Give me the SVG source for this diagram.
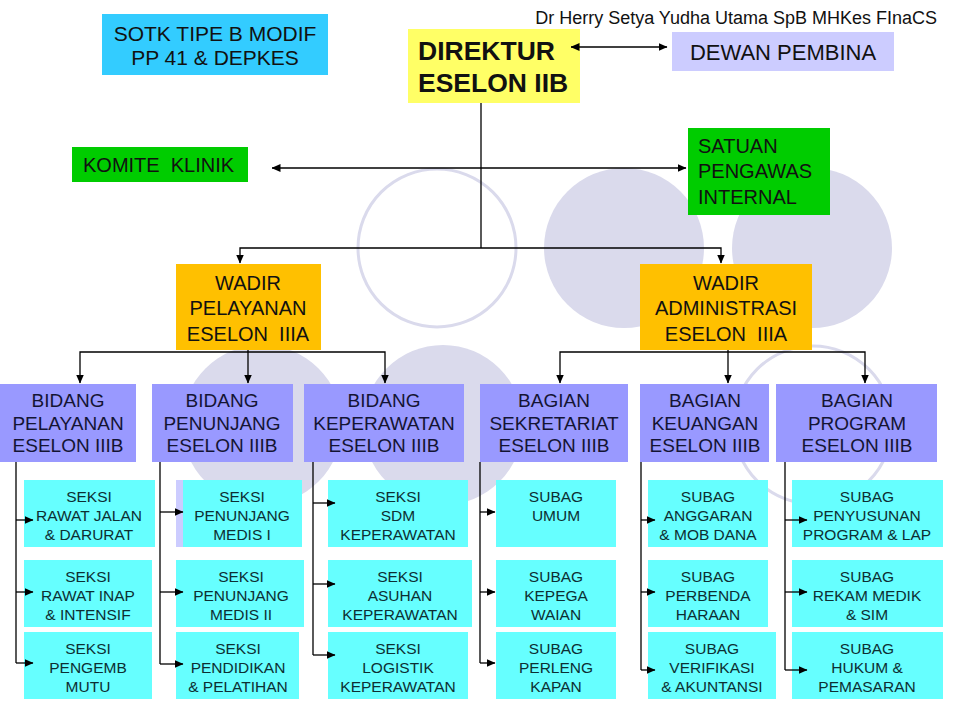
<svg xmlns="http://www.w3.org/2000/svg" width="960" height="720" viewBox="0 0 960 720">
<defs>
<marker id="arr" markerUnits="userSpaceOnUse" markerWidth="9" markerHeight="8" refX="8.5" refY="4" orient="auto-start-reverse" viewBox="0 0 9 8">
<path d="M0,0 L9,4 L0,8 z" fill="#000"/>
</marker>
<style>
text{font-family:"Liberation Sans",Arial,sans-serif;fill:#111;}
.c{text-anchor:middle;}
.bg{fill:#DADAEC;}
.ring{fill:none;stroke:#DADAEC;stroke-width:3;}
.ln{fill:none;stroke:#000;stroke-width:1.3;}
.cy{fill:#66FFFF;}
.sm{font-size:15.5px;fill:#0d2f33;}
.bid{fill:#9999FF;}
.md{font-size:19px;fill:#141433;}
.wd{font-size:20px;}
</style>
</defs>
<rect width="960" height="720" fill="#fff"/>
<g id="background">
<circle class="ring" cx="437" cy="248" r="79"/>
<circle class="bg" cx="624" cy="248" r="80"/>
<circle class="bg" cx="812" cy="248" r="80"/>
<circle class="bg" cx="262" cy="425" r="80"/>
<circle class="bg" cx="443" cy="425" r="80"/>
<circle class="ring" cx="813" cy="425" r="79"/>
</g>
<g id="author"><text x="937" y="24" style="font-size:18px;text-anchor:end">Dr Herry Setya Yudha Utama SpB MHKes FInaCS</text></g>
<g id="sotk"><rect x="102" y="14" width="226" height="61" fill="#33CCFF"/>
<text class="c" style="font-size:21px"><tspan x="215" y="41">SOTK TIPE B MODIF</tspan><tspan x="215" y="65">PP 41 &amp; DEPKES</tspan></text></g>
<g id="direktur"><rect x="408" y="29" width="172" height="74" fill="#FFFF66"/>
<text style="font-size:26.5px;font-weight:bold"><tspan x="418" y="60">DIREKTUR</tspan><tspan x="418" y="92">ESELON IIB</tspan></text></g>
<g id="dewan"><rect x="672" y="32" width="222" height="39" fill="#CCCCFF"/>
<text class="c" style="font-size:22px" x="783" y="60">DEWAN PEMBINA</text></g>
<g id="komite"><rect x="72" y="147" width="176" height="35" fill="#00CC00"/>
<text x="83" y="172" style="font-size:20px" xml:space="preserve">KOMITE  KLINIK</text></g>
<g id="spi"><rect x="688" y="128" width="142" height="87" fill="#00CC00"/>
<text style="font-size:20px"><tspan x="698" y="153">SATUAN</tspan><tspan x="698" y="178">PENGAWAS</tspan><tspan x="698" y="204">INTERNAL</tspan></text></g>
<g id="wadir-pelayanan"><rect x="176" y="264" width="145" height="86" fill="#FFC000"/>
<text class="c wd"><tspan x="248" y="290">WADIR</tspan><tspan x="248" y="315">PELAYANAN</tspan><tspan x="248" y="341" xml:space="preserve">ESELON  IIIA</tspan></text></g>
<g id="wadir-administrasi"><rect x="640" y="264" width="172" height="86" fill="#FFC000"/>
<text class="c wd"><tspan x="726" y="290">WADIR</tspan><tspan x="726" y="315">ADMINISTRASI</tspan><tspan x="726" y="341" xml:space="preserve">ESELON  IIIA</tspan></text></g>
<g id="bidang-pelayanan"><rect class="bid" x="0" y="384" width="136" height="78"/>
<text class="c md"><tspan x="68" y="407">BIDANG</tspan><tspan x="68" y="430">PELAYANAN</tspan><tspan x="68" y="452">ESELON IIIB</tspan></text></g>
<g id="bidang-penunjang"><rect class="bid" x="152" y="384" width="141" height="78"/>
<text class="c md"><tspan x="222" y="407">BIDANG</tspan><tspan x="222" y="430">PENUNJANG</tspan><tspan x="222" y="452">ESELON IIIB</tspan></text></g>
<g id="bidang-keperawatan"><rect class="bid" x="304" y="384" width="160" height="78"/>
<text class="c md"><tspan x="384" y="407">BIDANG</tspan><tspan x="384" y="430">KEPERAWATAN</tspan><tspan x="384" y="452">ESELON IIIB</tspan></text></g>
<g id="bagian-sekretariat"><rect class="bid" x="480" y="384" width="148" height="78"/>
<text class="c md"><tspan x="554" y="407">BAGIAN</tspan><tspan x="554" y="430">SEKRETARIAT</tspan><tspan x="554" y="452">ESELON IIIB</tspan></text></g>
<g id="bagian-keuangan"><rect class="bid" x="640" y="384" width="129" height="78"/>
<text class="c md"><tspan x="705" y="407">BAGIAN</tspan><tspan x="705" y="430">KEUANGAN</tspan><tspan x="705" y="452">ESELON IIIB</tspan></text></g>
<g id="bagian-program"><rect class="bid" x="776" y="384" width="161" height="78"/>
<text class="c md"><tspan x="857" y="407">BAGIAN</tspan><tspan x="857" y="430">PROGRAM</tspan><tspan x="857" y="452">ESELON IIIB</tspan></text></g>

<g id="seksi-rawat-jalan"><rect class="cy" x="24" y="480" width="131" height="67"/>
<text class="c sm"><tspan x="89" y="502">SEKSI</tspan><tspan x="89" y="521">RAWAT JALAN</tspan><tspan x="89" y="540">&amp; DARURAT</tspan></text></g>
<g id="seksi-rawat-inap"><rect class="cy" x="24" y="560" width="128" height="67"/>
<text class="c sm"><tspan x="88" y="582">SEKSI</tspan><tspan x="88" y="601">RAWAT INAP</tspan><tspan x="88" y="620">&amp; INTENSIF</tspan></text></g>
<g id="seksi-pengemb-mutu"><rect class="cy" x="24" y="632" width="128" height="67"/>
<text class="c sm"><tspan x="88" y="654">SEKSI</tspan><tspan x="88" y="673">PENGEMB</tspan><tspan x="88" y="692">MUTU</tspan></text></g>

<g id="seksi-penunjang-1"><rect x="176" y="480" width="10" height="67" fill="#CCCCFF"/><rect class="cy" x="183" y="480" width="119" height="67"/>
<text class="c sm"><tspan x="242" y="502">SEKSI</tspan><tspan x="242" y="521">PENUNJANG</tspan><tspan x="242" y="540">MEDIS I</tspan></text></g>
<g id="seksi-penunjang-2"><rect class="cy" x="176" y="560" width="128" height="67"/>
<text class="c sm"><tspan x="241" y="582">SEKSI</tspan><tspan x="241" y="601">PENUNJANG</tspan><tspan x="241" y="620">MEDIS II</tspan></text></g>
<g id="seksi-pendidikan"><rect class="cy" x="176" y="632" width="123" height="67"/>
<text class="c sm"><tspan x="238" y="654">SEKSI</tspan><tspan x="238" y="673">PENDIDIKAN</tspan><tspan x="238" y="692">&amp; PELATIHAN</tspan></text></g>

<g id="seksi-sdm"><rect class="cy" x="328" y="480" width="140" height="67"/>
<text class="c sm"><tspan x="398" y="502">SEKSI</tspan><tspan x="398" y="521">SDM</tspan><tspan x="398" y="540">KEPERAWATAN</tspan></text></g>
<g id="seksi-asuhan"><rect class="cy" x="328" y="560" width="144" height="67"/>
<text class="c sm"><tspan x="400" y="582">SEKSI</tspan><tspan x="400" y="601">ASUHAN</tspan><tspan x="400" y="620">KEPERAWATAN</tspan></text></g>
<g id="seksi-logistik"><rect class="cy" x="328" y="632" width="140" height="67"/>
<text class="c sm"><tspan x="398" y="654">SEKSI</tspan><tspan x="398" y="673">LOGISTIK</tspan><tspan x="398" y="692">KEPERAWATAN</tspan></text></g>

<g id="subag-umum"><rect class="cy" x="496" y="480" width="120" height="67"/>
<text class="c sm"><tspan x="556" y="502">SUBAG</tspan><tspan x="556" y="521">UMUM</tspan></text></g>
<g id="subag-kepegawaian"><rect class="cy" x="496" y="560" width="120" height="67"/>
<text class="c sm"><tspan x="556" y="582">SUBAG</tspan><tspan x="556" y="601">KEPEGA</tspan><tspan x="556" y="620">WAIAN</tspan></text></g>
<g id="subag-perlengkapan"><rect class="cy" x="496" y="632" width="120" height="67"/>
<text class="c sm"><tspan x="556" y="654">SUBAG</tspan><tspan x="556" y="673">PERLENG</tspan><tspan x="556" y="692">KAPAN</tspan></text></g>

<g id="subag-anggaran"><rect class="cy" x="648" y="480" width="120" height="67"/>
<text class="c sm"><tspan x="708" y="502">SUBAG</tspan><tspan x="708" y="521">ANGGARAN</tspan><tspan x="708" y="540">&amp; MOB DANA</tspan></text></g>
<g id="subag-perbendaharaan"><rect class="cy" x="648" y="560" width="120" height="67"/>
<text class="c sm"><tspan x="708" y="582">SUBAG</tspan><tspan x="708" y="601">PERBENDA</tspan><tspan x="708" y="620">HARAAN</tspan></text></g>
<g id="subag-verifikasi"><rect class="cy" x="648" y="632" width="128" height="67"/>
<text class="c sm"><tspan x="712" y="654">SUBAG</tspan><tspan x="712" y="673">VERIFIKASI</tspan><tspan x="712" y="692">&amp; AKUNTANSI</tspan></text></g>

<g id="subag-penyusunan"><rect class="cy" x="792" y="480" width="151" height="67"/>
<text class="c sm"><tspan x="867" y="502">SUBAG</tspan><tspan x="867" y="521">PENYUSUNAN</tspan><tspan x="867" y="540">PROGRAM &amp; LAP</tspan></text></g>
<g id="subag-rekam-medik"><rect class="cy" x="792" y="560" width="151" height="67"/>
<text class="c sm"><tspan x="867" y="582">SUBAG</tspan><tspan x="867" y="601">REKAM MEDIK</tspan><tspan x="867" y="620">&amp; SIM</tspan></text></g>
<g id="subag-hukum"><rect class="cy" x="792" y="632" width="151" height="67"/>
<text class="c sm"><tspan x="867" y="654">SUBAG</tspan><tspan x="867" y="673">HUKUM &amp;</tspan><tspan x="867" y="692">PEMASARAN</tspan></text></g>

<g id="connectors">
<path class="ln" d="M571,47 H667" marker-start="url(#arr)" marker-end="url(#arr)"/>
<path class="ln" d="M481,103 V248"/>
<path class="ln" d="M272,168 H686" marker-start="url(#arr)" marker-end="url(#arr)"/>
<path class="ln" d="M240,263 V248 H721 V263" marker-start="url(#arr)" marker-end="url(#arr)"/>
<path class="ln" d="M80,383 V352 H385 V383" marker-start="url(#arr)" marker-end="url(#arr)"/>
<path class="ln" d="M248,350 V383" marker-end="url(#arr)"/>
<path class="ln" d="M560,383 V352 H865 V383" marker-start="url(#arr)" marker-end="url(#arr)"/>
<path class="ln" d="M728,350 V383" marker-end="url(#arr)"/>
<path class="ln" d="M16,462 V663"/>
<path class="ln" d="M16,520 H33" marker-end="url(#arr)"/>
<path class="ln" d="M16,592 H33" marker-end="url(#arr)"/>
<path class="ln" d="M16,663 H33" marker-end="url(#arr)"/>
<path class="ln" d="M160,462 V664"/>
<path class="ln" d="M160,512 H183" marker-end="url(#arr)"/>
<path class="ln" d="M160,592 H183" marker-end="url(#arr)"/>
<path class="ln" d="M160,664 H183" marker-end="url(#arr)"/>
<path class="ln" d="M313,462 V655"/>
<path class="ln" d="M313,503 H335" marker-end="url(#arr)"/>
<path class="ln" d="M313,584 H335" marker-end="url(#arr)"/>
<path class="ln" d="M313,655 H335" marker-end="url(#arr)"/>
<path class="ln" d="M480,462 V663"/>
<path class="ln" d="M480,512 H495" marker-end="url(#arr)"/>
<path class="ln" d="M480,592 H495" marker-end="url(#arr)"/>
<path class="ln" d="M480,663 H495" marker-end="url(#arr)"/>
<path class="ln" d="M641,462 V670"/>
<path class="ln" d="M641,520 H655" marker-end="url(#arr)"/>
<path class="ln" d="M641,592 H655" marker-end="url(#arr)"/>
<path class="ln" d="M641,670 H655" marker-end="url(#arr)"/>
<path class="ln" d="M785,462 V670"/>
<path class="ln" d="M785,520 H807" marker-end="url(#arr)"/>
<path class="ln" d="M785,592 H807" marker-end="url(#arr)"/>
<path class="ln" d="M785,670 H807" marker-end="url(#arr)"/>
</g>
</svg>
